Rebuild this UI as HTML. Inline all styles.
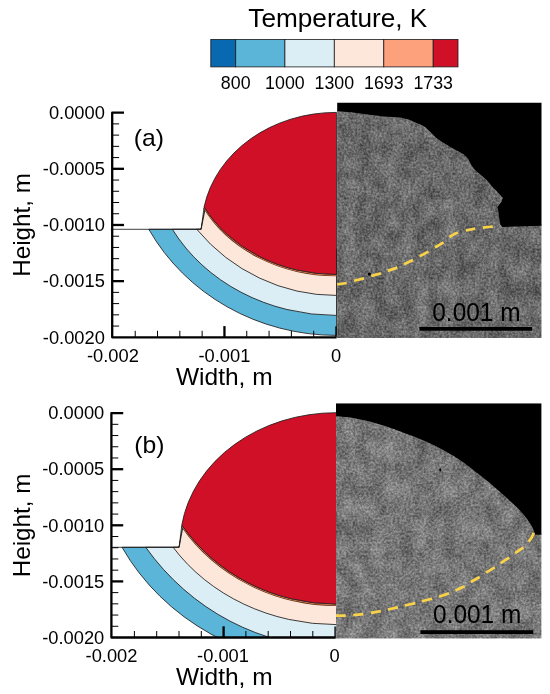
<!DOCTYPE html>
<html lang="en"><head><meta charset="utf-8"><title>Temperature contours</title>
<style>
html,body{margin:0;padding:0;background:#fff;}
svg{display:block;}
text{fill:#000;}
</style></head>
<body>
<svg width="550" height="694" viewBox="0 0 550 694">
<defs>
<filter id="texa" x="0" y="0" width="100%" height="100%" color-interpolation-filters="sRGB">
  <feTurbulence type="fractalNoise" baseFrequency="0.45" numOctaves="2" seed="3" result="f0"/>
  <feColorMatrix in="f0" type="matrix" values="1 0 0 0 0  1 0 0 0 0  1 0 0 0 0  0 0 0 0 1" result="f"/>
  <feTurbulence type="fractalNoise" baseFrequency="0.07 0.05" numOctaves="3" seed="11" result="c0"/>
  <feColorMatrix in="c0" type="matrix" values="1 0 0 0 0  1 0 0 0 0  1 0 0 0 0  0 0 0 0 1" result="c"/>
  <feComposite in="f" in2="c" operator="arithmetic" k1="0" k2="0.42" k3="0.26" k4="-0.11"/>
</filter>
<filter id="texb" x="0" y="0" width="100%" height="100%" color-interpolation-filters="sRGB">
  <feTurbulence type="fractalNoise" baseFrequency="0.45" numOctaves="2" seed="5" result="f0"/>
  <feColorMatrix in="f0" type="matrix" values="1 0 0 0 0  1 0 0 0 0  1 0 0 0 0  0 0 0 0 1" result="f"/>
  <feTurbulence type="fractalNoise" baseFrequency="0.07 0.05" numOctaves="3" seed="23" result="c0"/>
  <feColorMatrix in="c0" type="matrix" values="1 0 0 0 0  1 0 0 0 0  1 0 0 0 0  0 0 0 0 1" result="c"/>
  <feComposite in="f" in2="c" operator="arithmetic" k1="0" k2="0.42" k3="0.26" k4="-0.035"/>
</filter></defs>
<rect width="550" height="694" fill="#fff"/>
<rect x="210.8" y="39.4" width="24.899999999999977" height="27.500000000000007" fill="#0868b0" stroke="#1a1a1a" stroke-width="0.8"/>
<rect x="235.7" y="39.4" width="49.19999999999999" height="27.500000000000007" fill="#5bb5d8" stroke="#1a1a1a" stroke-width="0.8"/>
<rect x="284.9" y="39.4" width="49.400000000000034" height="27.500000000000007" fill="#dbedf5" stroke="#1a1a1a" stroke-width="0.8"/>
<rect x="334.3" y="39.4" width="49.5" height="27.500000000000007" fill="#fde6da" stroke="#1a1a1a" stroke-width="0.8"/>
<rect x="383.8" y="39.4" width="49.39999999999998" height="27.500000000000007" fill="#fca17c" stroke="#1a1a1a" stroke-width="0.8"/>
<rect x="433.2" y="39.4" width="24.80000000000001" height="27.500000000000007" fill="#d01027" stroke="#1a1a1a" stroke-width="0.8"/>
<text x="235.7" y="89.2" text-anchor="middle" font-size="17.8" font-family="'Liberation Sans', Arial, sans-serif">800</text>
<text x="284.9" y="89.2" text-anchor="middle" font-size="17.8" font-family="'Liberation Sans', Arial, sans-serif">1000</text>
<text x="334.3" y="89.2" text-anchor="middle" font-size="17.8" font-family="'Liberation Sans', Arial, sans-serif">1300</text>
<text x="383.8" y="89.2" text-anchor="middle" font-size="17.8" font-family="'Liberation Sans', Arial, sans-serif">1693</text>
<text x="433.2" y="89.2" text-anchor="middle" font-size="17.8" font-family="'Liberation Sans', Arial, sans-serif">1733</text>
<text x="337.8" y="26.5" text-anchor="middle" font-size="25" textLength="179" lengthAdjust="spacingAndGlyphs" font-family="'Liberation Sans', Arial, sans-serif">Temperature, K</text>
<clipPath id="clipa"><rect x="112.8" y="110.4" width="224.1" height="226.6"/></clipPath>
<g clip-path="url(#clipa)">
<path d="M148.80 229.3 A213.30 202.05 0 0 0 336.50 335.38 V249.3 L234.1 221.3 L205.1 209.3 L201.1 229.3 Z" fill="#5bb5d8" stroke="#1c1c1c" stroke-width="0.85" stroke-linejoin="round"/>
<path d="M172.39 229.3 A186.99 165.42 0 0 0 336.50 315.43 V249.3 L234.1 221.3 L205.1 209.3 L201.1 229.3 Z" fill="#dbedf5" stroke="#1c1c1c" stroke-width="0.85" stroke-linejoin="round"/>
<path d="M196.79 229.3 A183.41 187.83 0 0 0 336.50 295.44 V249.3 L234.1 221.3 L205.1 209.3 L201.1 229.3 Z" fill="#fde6da" stroke="#1c1c1c" stroke-width="0.85" stroke-linejoin="round"/>
<path d="M204.10 207.80 A148.58 124.47 0 0 0 336.50 275.37" fill="none" stroke="#5a2a14" stroke-width="2.0"/>
<path d="M204.10 207.80 A148.58 124.47 0 0 0 336.50 275.37" fill="none" stroke="#e58a5c" stroke-width="0.9"/>
<path d="M204.10 206.90 A148.58 124.47 0 0 0 336.50 274.47 V112.4 A134.29 115.68 0 0 0 204.10 206.90 Z" fill="#d01027" stroke="#1c1c1c" stroke-width="0.85" stroke-linejoin="round"/>
</g>
<path d="M110.8 229.3 H201.1 L204.10 207.30" fill="none" stroke="#1c1c1c" stroke-width="0.85"/>
<clipPath id="ga"><path d="M337.1 109.7 L351.4 110.8 L367.7 112.9 L384.1 114.9 L400.5 115.9 L408.6 118.1 L416.8 121.4 L420.5 123.1 L425.5 125.7 L430.9 131.0 L436.4 136.4 L441.8 140.2 L452.7 146.8 L463.6 152.8 L468.0 157.1 L471.3 163.7 L475.6 169.1 L479.8 172.4 L486.7 178.5 L492.3 185.3 L497.7 190.8 L502.6 196.3 L501.5 200.0 L497.3 205.5 L498.6 211.5 L499.3 218.0 L500.4 223.3 L502.5 225.5 L541.5 224.3 V338.0 H337.1 Z"/><path d="M337.1 111.2 L351.4 112.3 L367.7 114.4 L384.1 116.4 L400.5 117.4 L408.6 119.6 L416.8 122.9 L420.5 124.6 L425.5 127.2 L430.9 132.5 L436.4 137.9 L441.8 141.7 L452.7 148.3 L463.6 154.3 L468.0 158.6 L471.3 165.2 L475.6 170.6 L479.8 173.9 L486.7 180.0 L492.3 186.8 L497.7 192.3 L502.6 197.8 L501.5 201.5 L497.3 207.0 L498.6 213.0 L499.3 219.5 L500.4 224.8 L502.5 227.0 L541.5 225.8 V338.0 H337.1 Z"/></clipPath>
<g clip-path="url(#ga)"><rect x="337.1" y="106.4" width="204.39999999999998" height="231.6" fill="#6e6e6e"/>
<rect x="337.1" y="106.4" width="204.39999999999998" height="231.6" filter="url(#texa)"/></g>
<clipPath id="imga"><rect x="337.1" y="102.4" width="204.39999999999998" height="235.6"/></clipPath>
<path d="M337.1 102.4 H543.5 V225.8 L541.5 225.8 L502.5 227.0 L500.4 224.8 L499.3 219.5 L498.6 213.0 L497.3 207.0 L501.5 201.5 L502.6 197.8 L497.7 192.3 L492.3 186.8 L486.7 180.0 L479.8 173.9 L475.6 170.6 L471.3 165.2 L468.0 158.6 L463.6 154.3 L452.7 148.3 L441.8 141.7 L436.4 137.9 L430.9 132.5 L425.5 127.2 L420.5 124.6 L416.8 122.9 L408.6 119.6 L400.5 117.4 L384.1 116.4 L367.7 114.4 L351.4 112.3 L337.1 111.2 Z" fill="#000" clip-path="url(#imga)"/>
<path d="M337.1 284.5 L346.7 283.0 M354.1 280.8 L364.0 278.4 M371.3 276.0 L380.9 273.4 M387.8 270.9 L397.3 267.6 M404.0 264.2 L413.1 260.1 M419.6 256.2 L428.5 251.6 M435.0 247.5 L443.6 242.3 M449.3 237.0 L453.8 234.3 L457.9 232.6 M465.8 230.5 L475.2 228.7 M482.8 227.6 L492.8 226.5" fill="none" stroke="#f9d24a" stroke-width="2.7" stroke-linejoin="round"/>
<circle cx="369.4" cy="274.1" r="1.6" fill="#000"/>
<rect x="419.4" y="327.0" width="112.6" height="3.7" fill="#000"/>
<text x="476.4" y="320.6" text-anchor="middle" font-size="25" textLength="88.2" lengthAdjust="spacingAndGlyphs" font-family="'Liberation Sans', Arial, sans-serif">0.001 m</text>
<path d="M124.0 112.65 H112.2 V337.3 H336.6" fill="none" stroke="#000" stroke-width="2.3" stroke-linejoin="round"/>
<line x1="112.2" y1="123.88" x2="119.10000000000001" y2="123.88" stroke="#000" stroke-width="1.0"/>
<line x1="112.2" y1="135.12" x2="119.10000000000001" y2="135.12" stroke="#000" stroke-width="1.0"/>
<line x1="112.2" y1="146.35" x2="119.10000000000001" y2="146.35" stroke="#000" stroke-width="1.0"/>
<line x1="112.2" y1="157.58" x2="119.10000000000001" y2="157.58" stroke="#000" stroke-width="1.0"/>
<line x1="112.2" y1="168.81" x2="124.0" y2="168.81" stroke="#000" stroke-width="2.3"/>
<line x1="112.2" y1="180.05" x2="119.10000000000001" y2="180.05" stroke="#000" stroke-width="1.0"/>
<line x1="112.2" y1="191.28" x2="119.10000000000001" y2="191.28" stroke="#000" stroke-width="1.0"/>
<line x1="112.2" y1="202.51" x2="119.10000000000001" y2="202.51" stroke="#000" stroke-width="1.0"/>
<line x1="112.2" y1="213.74" x2="119.10000000000001" y2="213.74" stroke="#000" stroke-width="1.0"/>
<line x1="112.2" y1="224.98" x2="124.0" y2="224.98" stroke="#000" stroke-width="2.3"/>
<line x1="112.2" y1="236.21" x2="119.10000000000001" y2="236.21" stroke="#000" stroke-width="1.0"/>
<line x1="112.2" y1="247.44" x2="119.10000000000001" y2="247.44" stroke="#000" stroke-width="1.0"/>
<line x1="112.2" y1="258.67" x2="119.10000000000001" y2="258.67" stroke="#000" stroke-width="1.0"/>
<line x1="112.2" y1="269.90" x2="119.10000000000001" y2="269.90" stroke="#000" stroke-width="1.0"/>
<line x1="112.2" y1="281.14" x2="124.0" y2="281.14" stroke="#000" stroke-width="2.3"/>
<line x1="112.2" y1="292.37" x2="119.10000000000001" y2="292.37" stroke="#000" stroke-width="1.0"/>
<line x1="112.2" y1="303.60" x2="119.10000000000001" y2="303.60" stroke="#000" stroke-width="1.0"/>
<line x1="112.2" y1="314.84" x2="119.10000000000001" y2="314.84" stroke="#000" stroke-width="1.0"/>
<line x1="112.2" y1="326.07" x2="119.10000000000001" y2="326.07" stroke="#000" stroke-width="1.0"/>
<text transform="translate(104.9,118.9) scale(1.03,1)" text-anchor="end" font-size="17.8" font-family="'Liberation Sans', Arial, sans-serif">0.0000</text>
<text transform="translate(104.9,175.0) scale(1.03,1)" text-anchor="end" font-size="17.8" font-family="'Liberation Sans', Arial, sans-serif">-0.0005</text>
<text transform="translate(104.9,231.2) scale(1.03,1)" text-anchor="end" font-size="17.8" font-family="'Liberation Sans', Arial, sans-serif">-0.0010</text>
<text transform="translate(104.9,287.3) scale(1.03,1)" text-anchor="end" font-size="17.8" font-family="'Liberation Sans', Arial, sans-serif">-0.0015</text>
<text transform="translate(104.9,343.5) scale(1.03,1)" text-anchor="end" font-size="17.8" font-family="'Liberation Sans', Arial, sans-serif">-0.0020</text>
<line x1="135.21" y1="337.3" x2="135.21" y2="330.8" stroke="#000" stroke-width="1.0"/>
<line x1="157.52" y1="337.3" x2="157.52" y2="330.8" stroke="#000" stroke-width="1.0"/>
<line x1="179.83" y1="337.3" x2="179.83" y2="330.8" stroke="#000" stroke-width="1.0"/>
<line x1="202.14" y1="337.3" x2="202.14" y2="330.8" stroke="#000" stroke-width="1.0"/>
<line x1="224.45" y1="337.3" x2="224.45" y2="326.1" stroke="#000" stroke-width="2.3"/>
<line x1="246.76" y1="337.3" x2="246.76" y2="330.8" stroke="#000" stroke-width="1.0"/>
<line x1="269.07" y1="337.3" x2="269.07" y2="330.8" stroke="#000" stroke-width="1.0"/>
<line x1="291.38" y1="337.3" x2="291.38" y2="330.8" stroke="#000" stroke-width="1.0"/>
<line x1="313.69" y1="337.3" x2="313.69" y2="330.8" stroke="#000" stroke-width="1.0"/>
<line x1="336.00" y1="337.3" x2="336.00" y2="326.3" stroke="#000" stroke-width="1.4"/>
<text transform="translate(112.9,362.1) scale(1.03,1)" text-anchor="middle" font-size="17.8" font-family="'Liberation Sans', Arial, sans-serif">-0.002</text>
<text transform="translate(224.4,362.1) scale(1.03,1)" text-anchor="middle" font-size="17.8" font-family="'Liberation Sans', Arial, sans-serif">-0.001</text>
<text transform="translate(336.0,362.1) scale(1.03,1)" text-anchor="middle" font-size="17.8" font-family="'Liberation Sans', Arial, sans-serif">0</text>
<text transform="translate(133.7,145.5) scale(1.03,1)" font-size="24" font-family="'Liberation Sans', Arial, sans-serif">(a)</text>
<text transform="translate(30.3,225) rotate(-90) scale(1.01,1)" text-anchor="middle" font-size="24" font-family="'Liberation Sans', Arial, sans-serif">Height, m</text>
<text x="224.3" y="384.5" text-anchor="middle" font-size="24.5" font-family="'Liberation Sans', Arial, sans-serif">Width, m</text>
<clipPath id="clipb"><rect x="112.8" y="410.7" width="224.1" height="226.7"/></clipPath>
<g clip-path="url(#clipb)">
<path d="M122.07 547.3 A241.52 220.22 0 0 0 336.50 666.18 V567.3 L211.8 539.3 L182.8 527.4 L179.1 547.3 Z" fill="#5bb5d8" stroke="#1c1c1c" stroke-width="0.85" stroke-linejoin="round"/>
<path d="M145.72 547.3 A238.21 249.72 0 0 0 336.50 647.49 V567.3 L211.8 539.3 L182.8 527.4 L179.1 547.3 Z" fill="#dbedf5" stroke="#1c1c1c" stroke-width="0.85" stroke-linejoin="round"/>
<path d="M173.13 547.3 A195.66 171.93 0 0 0 336.50 624.62 V567.3 L211.8 539.3 L182.8 527.4 L179.1 547.3 Z" fill="#fde6da" stroke="#1c1c1c" stroke-width="0.85" stroke-linejoin="round"/>
<path d="M181.80 525.90 A184.97 175.10 0 0 0 336.50 605.00" fill="none" stroke="#5a2a14" stroke-width="2.0"/>
<path d="M181.80 525.90 A184.97 175.10 0 0 0 336.50 605.00" fill="none" stroke="#e58a5c" stroke-width="0.9"/>
<path d="M181.80 525.00 A184.97 175.10 0 0 0 336.50 604.10 V412.7 A156.1 131.86 0 0 0 181.80 525.00 Z" fill="#d01027" stroke="#1c1c1c" stroke-width="0.85" stroke-linejoin="round"/>
</g>
<path d="M110.8 547.3 H179.1 L181.80 525.40" fill="none" stroke="#1c1c1c" stroke-width="0.85"/>
<clipPath id="gb"><path d="M336.0 414.7 C337.5 414.8 341.8 415.0 345.0 415.4 C348.2 415.8 350.0 415.8 355.0 416.8 C360.0 417.8 368.3 419.6 375.0 421.5 C381.7 423.4 388.3 425.6 395.0 427.9 C401.7 430.2 408.3 432.8 415.0 435.5 C421.7 438.2 427.6 440.6 435.0 444.3 C442.4 448.0 451.9 453.2 459.1 457.9 C466.3 462.6 471.8 467.3 478.2 472.3 C484.6 477.3 490.9 482.4 497.3 487.9 C503.7 493.4 511.6 500.6 516.4 505.3 C521.2 510.0 523.4 512.8 525.9 516.0 C528.4 519.2 530.1 521.9 531.5 524.3 C532.9 526.7 533.8 529.3 534.2 530.3 L534.6 533.2 H541.4 V638.4 H336.0 Z"/></clipPath>
<g clip-path="url(#gb)"><rect x="336.0" y="407.2" width="205.39999999999998" height="231.2" fill="#737373"/>
<rect x="336.0" y="407.2" width="205.39999999999998" height="231.2" filter="url(#texb)"/></g>
<clipPath id="imgb"><rect x="336.0" y="403.2" width="205.39999999999998" height="235.2"/></clipPath>
<path d="M543.4 403.2 H336.0 V416.2 C337.5 416.3 341.8 416.5 345.0 416.9 C348.2 417.2 350.0 417.3 355.0 418.3 C360.0 419.3 368.3 421.1 375.0 423.0 C381.7 424.9 388.3 427.1 395.0 429.4 C401.7 431.7 408.3 434.3 415.0 437.0 C421.7 439.7 427.6 442.1 435.0 445.8 C442.4 449.5 451.9 454.7 459.1 459.4 C466.3 464.1 471.8 468.8 478.2 473.8 C484.6 478.8 490.9 483.9 497.3 489.4 C503.7 494.9 511.6 502.1 516.4 506.8 C521.2 511.5 523.4 514.3 525.9 517.5 C528.4 520.7 530.1 523.4 531.5 525.8 C532.9 528.2 533.8 530.8 534.2 531.8 L534.6 534.7 H543.4 Z" fill="#000" clip-path="url(#imgb)"/>
<path d="M336.0 615.7 L345.8 615.6 M353.2 615.1 L363.3 614.2 M370.9 612.9 L380.8 611.2 M387.8 609.5 L398.0 607.4 M404.7 605.5 L415.3 603.1 M421.8 601.3 L432.0 598.7 M439.0 596.7 L448.9 593.4 M455.5 590.5 L464.7 586.2 M470.8 582.0 L479.7 577.0 M486.0 572.7 L494.7 567.4 M500.5 563.2 L509.3 557.6 M515.1 553.2 L523.4 547.4 M528.6 541.8 L531.6 537.6 L533.9 532.8" fill="none" stroke="#f9d24a" stroke-width="2.7" stroke-linejoin="round"/>
<ellipse cx="440.2" cy="469.8" rx="0.9" ry="1.6" fill="#000"/>
<rect x="420.4" y="630.2" width="112.8" height="3.8" fill="#000"/>
<text x="477.2" y="623.2" text-anchor="middle" font-size="25" textLength="88.2" lengthAdjust="spacingAndGlyphs" font-family="'Liberation Sans', Arial, sans-serif">0.001 m</text>
<path d="M123.2 413.1 H111.4 V637.5 H335.70000000000005" fill="none" stroke="#000" stroke-width="2.3" stroke-linejoin="round"/>
<line x1="111.4" y1="424.32" x2="118.30000000000001" y2="424.32" stroke="#000" stroke-width="1.0"/>
<line x1="111.4" y1="435.54" x2="118.30000000000001" y2="435.54" stroke="#000" stroke-width="1.0"/>
<line x1="111.4" y1="446.76" x2="118.30000000000001" y2="446.76" stroke="#000" stroke-width="1.0"/>
<line x1="111.4" y1="457.98" x2="118.30000000000001" y2="457.98" stroke="#000" stroke-width="1.0"/>
<line x1="111.4" y1="469.20" x2="123.2" y2="469.20" stroke="#000" stroke-width="2.3"/>
<line x1="111.4" y1="480.42" x2="118.30000000000001" y2="480.42" stroke="#000" stroke-width="1.0"/>
<line x1="111.4" y1="491.64" x2="118.30000000000001" y2="491.64" stroke="#000" stroke-width="1.0"/>
<line x1="111.4" y1="502.86" x2="118.30000000000001" y2="502.86" stroke="#000" stroke-width="1.0"/>
<line x1="111.4" y1="514.08" x2="118.30000000000001" y2="514.08" stroke="#000" stroke-width="1.0"/>
<line x1="111.4" y1="525.30" x2="123.2" y2="525.30" stroke="#000" stroke-width="2.3"/>
<line x1="111.4" y1="536.52" x2="118.30000000000001" y2="536.52" stroke="#000" stroke-width="1.0"/>
<line x1="111.4" y1="547.74" x2="118.30000000000001" y2="547.74" stroke="#000" stroke-width="1.0"/>
<line x1="111.4" y1="558.96" x2="118.30000000000001" y2="558.96" stroke="#000" stroke-width="1.0"/>
<line x1="111.4" y1="570.18" x2="118.30000000000001" y2="570.18" stroke="#000" stroke-width="1.0"/>
<line x1="111.4" y1="581.40" x2="123.2" y2="581.40" stroke="#000" stroke-width="2.3"/>
<line x1="111.4" y1="592.62" x2="118.30000000000001" y2="592.62" stroke="#000" stroke-width="1.0"/>
<line x1="111.4" y1="603.84" x2="118.30000000000001" y2="603.84" stroke="#000" stroke-width="1.0"/>
<line x1="111.4" y1="615.06" x2="118.30000000000001" y2="615.06" stroke="#000" stroke-width="1.0"/>
<line x1="111.4" y1="626.28" x2="118.30000000000001" y2="626.28" stroke="#000" stroke-width="1.0"/>
<text transform="translate(104.3,419.3) scale(1.03,1)" text-anchor="end" font-size="17.8" font-family="'Liberation Sans', Arial, sans-serif">0.0000</text>
<text transform="translate(104.3,475.4) scale(1.03,1)" text-anchor="end" font-size="17.8" font-family="'Liberation Sans', Arial, sans-serif">-0.0005</text>
<text transform="translate(104.3,531.5) scale(1.03,1)" text-anchor="end" font-size="17.8" font-family="'Liberation Sans', Arial, sans-serif">-0.0010</text>
<text transform="translate(104.3,587.6) scale(1.03,1)" text-anchor="end" font-size="17.8" font-family="'Liberation Sans', Arial, sans-serif">-0.0015</text>
<text transform="translate(104.3,643.7) scale(1.03,1)" text-anchor="end" font-size="17.8" font-family="'Liberation Sans', Arial, sans-serif">-0.0020</text>
<line x1="134.40" y1="637.5" x2="134.40" y2="631.0" stroke="#000" stroke-width="1.0"/>
<line x1="156.70" y1="637.5" x2="156.70" y2="631.0" stroke="#000" stroke-width="1.0"/>
<line x1="179.00" y1="637.5" x2="179.00" y2="631.0" stroke="#000" stroke-width="1.0"/>
<line x1="201.30" y1="637.5" x2="201.30" y2="631.0" stroke="#000" stroke-width="1.0"/>
<line x1="223.60" y1="637.5" x2="223.60" y2="626.3" stroke="#000" stroke-width="2.3"/>
<line x1="245.90" y1="637.5" x2="245.90" y2="631.0" stroke="#000" stroke-width="1.0"/>
<line x1="268.20" y1="637.5" x2="268.20" y2="631.0" stroke="#000" stroke-width="1.0"/>
<line x1="290.50" y1="637.5" x2="290.50" y2="631.0" stroke="#000" stroke-width="1.0"/>
<line x1="312.80" y1="637.5" x2="312.80" y2="631.0" stroke="#000" stroke-width="1.0"/>
<line x1="335.10" y1="637.5" x2="335.10" y2="626.5" stroke="#000" stroke-width="1.4"/>
<text transform="translate(111.5,662.3) scale(1.03,1)" text-anchor="middle" font-size="17.8" font-family="'Liberation Sans', Arial, sans-serif">-0.002</text>
<text transform="translate(223.0,662.3) scale(1.03,1)" text-anchor="middle" font-size="17.8" font-family="'Liberation Sans', Arial, sans-serif">-0.001</text>
<text transform="translate(334.5,662.3) scale(1.03,1)" text-anchor="middle" font-size="17.8" font-family="'Liberation Sans', Arial, sans-serif">0</text>
<text transform="translate(134.2,452.8) scale(1.03,1)" font-size="24" font-family="'Liberation Sans', Arial, sans-serif">(b)</text>
<text transform="translate(30.3,525.5) rotate(-90) scale(1.01,1)" text-anchor="middle" font-size="24" font-family="'Liberation Sans', Arial, sans-serif">Height, m</text>
<text x="224.3" y="685" text-anchor="middle" font-size="24.5" font-family="'Liberation Sans', Arial, sans-serif">Width, m</text>
</svg>
</body></html>
